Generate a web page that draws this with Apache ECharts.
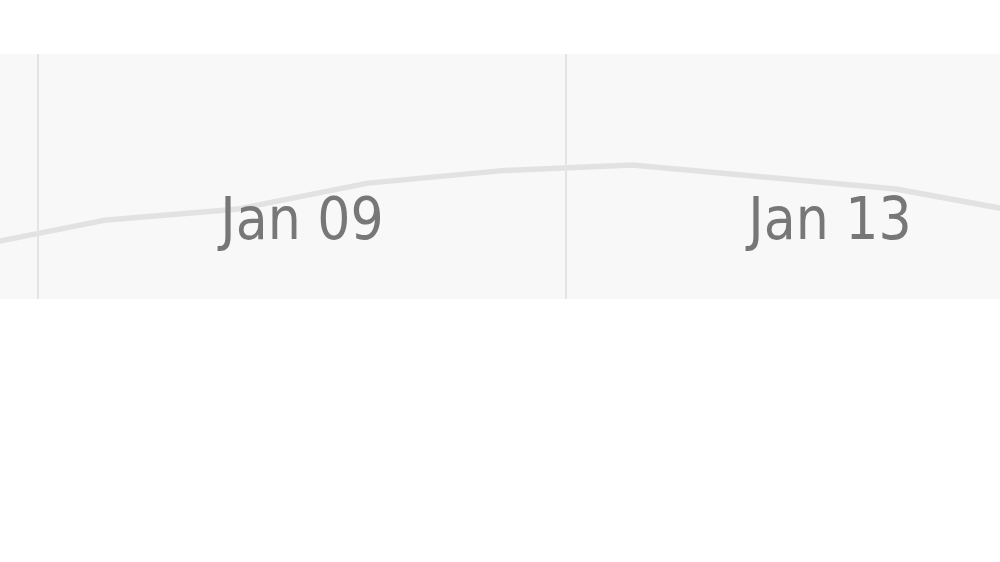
<!DOCTYPE html>
<html>
<head>
<meta charset="utf-8">
<script src="https://cdn.jsdelivr.net/npm/echarts@6/dist/echarts.min.js"></script>
<style>
html,body{margin:0;padding:0;background:#fff;}
#c{width:1000px;height:562px;}
</style>
</head>
<body>
<div id="c"></div>
<script>
// x = days since Jan 01 (Jan 01 = 0); points at noon of each day
const pointDays = [5.5, 6.5, 7.5, 8.5, 9.5, 10.5, 11.5, 12.5, 13.5];
const pointValues = [21.4, 32.1, 36.6, 47.3, 52.3, 54.7, 49.8, 44.9, 35.0];
const tickDays = [8, 12];
const tickLabels = ['Jan 09', 'Jan 13'];
const gridLineDays = [6, 10];

const chart = echarts.init(document.getElementById('c'), null, {renderer: 'canvas'});
chart.setOption({
  animation: false,
  backgroundColor: '#ffffff',
  grid: {
    left: 0, right: 0, top: 54, bottom: 263,
    show: true, backgroundColor: '#f8f8f8', borderWidth: 0
  },
  xAxis: {
    type: 'value',
    min: 5.712, max: 13.288,
    z: 5,
    axisLine: {show: false},
    axisTick: {show: false},
    splitLine: {show: false},
    axisLabel: {
      inside: true, margin: 46,
      customValues: tickDays,
      hideOverlap: false,
      color: '#777777',
      fontFamily: "'DejaVu Sans Condensed', 'Liberation Sans Narrow', sans-serif",
      fontSize: 58,
      formatter: function (v) {
        const i = tickDays.indexOf(Math.round(v * 1000) / 1000);
        return i >= 0 ? tickLabels[i] : '';
      }
    }
  },
  yAxis: {
    type: 'value', min: 0, max: 100, show: false,
    splitLine: {show: false}
  },
  series: [{
    type: 'line',
    z: 1,
    data: pointDays.map((d, i) => [d, pointValues[i]]),
    symbol: 'none',
    lineStyle: {color: '#e2e2e2', width: 5.5},
    silent: true,
    markLine: {
      silent: true,
      symbol: 'none',
      label: {show: false},
      lineStyle: {color: '#e4e4e4', width: 2, type: 'solid'},
      data: gridLineDays.map(d => ({xAxis: d}))
    }
  }]
});
</script>
</body>
</html>
